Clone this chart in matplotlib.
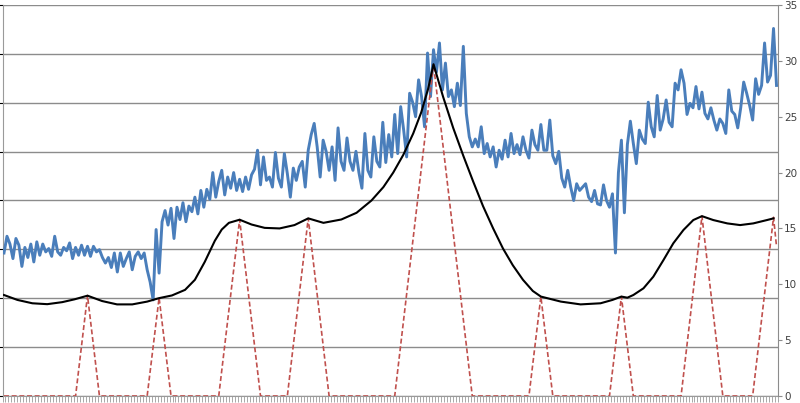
import matplotlib
matplotlib.use("Agg")
import matplotlib.pyplot as plt
import numpy as np

# ---------------- data ----------------
blue = [
    # 0-44
    12.8, 14.3, 13.6, 12.3, 14.1, 13.5, 11.6, 13.3, 12.4, 13.6, 12.0, 13.8, 12.6, 13.6, 12.9,
    13.2, 12.5, 14.3, 12.9, 12.6, 13.3, 13.0, 13.7, 12.3, 13.3, 12.6, 13.5, 12.6, 13.4, 12.5,
    13.4, 12.9, 13.1, 12.4, 11.9, 12.4, 11.5, 12.8, 11.1, 12.8, 11.6, 12.3, 12.9, 11.3, 12.5,
    # 45-88
    12.9, 12.3, 12.8, 11.3, 10.2, 8.6, 14.9, 11.0, 15.6, 16.6, 15.3, 16.8, 14.1, 16.9, 15.8,
    17.3, 15.6, 17.0, 16.5, 17.8, 16.3, 18.4, 16.9, 18.5, 17.6, 20.0, 17.8, 19.2, 20.2, 18.0,
    19.6, 18.6, 20.0, 18.4, 19.4, 18.3, 19.6, 18.5, 19.8, 20.3, 22.0, 18.9, 21.4, 19.3,
    # 89-133
    19.6, 18.7, 21.8, 19.5, 18.7, 21.7, 19.9, 17.8, 20.4, 19.3, 20.5, 21.0, 18.7, 22.0, 23.4,
    24.4, 22.3, 19.6, 22.9, 21.9, 20.2, 22.3, 19.3, 24.0, 21.0, 20.2, 23.1, 21.0, 20.2, 21.9,
    20.0, 18.6, 23.5, 20.2, 19.6, 23.2, 21.0, 20.5, 24.5, 20.9, 23.4, 21.4, 25.2, 21.7, 25.9,
    # 134-175
    23.8, 21.4, 27.1, 26.3, 25.0, 28.3, 26.8, 24.1, 30.7, 26.8, 31.0, 29.0, 31.6, 27.4, 29.8,
    26.8, 27.4, 25.9, 28.0, 26.0, 31.3, 25.3, 23.2, 22.3, 23.0, 22.3, 24.1, 21.7, 22.6, 21.4,
    22.3, 20.5, 22.0, 21.2, 22.9, 21.4, 23.5, 21.7, 22.5, 21.6, 23.2, 22.0,
    # 176-219
    21.3, 23.8, 22.5, 22.0, 24.3, 22.0, 22.0, 24.7, 21.5, 20.8, 21.9, 19.5, 18.7, 20.2, 18.7,
    17.5, 19.0, 18.4, 18.7, 19.0, 17.8, 17.4, 18.4, 17.2, 17.1, 18.9, 17.5, 16.9, 18.1, 12.8,
    20.0, 22.9, 16.4, 22.5, 24.6, 22.6, 20.8, 23.8, 23.0, 22.6, 26.3, 24.1, 23.2, 26.9,
    # 220-259
    23.8, 24.8, 26.5, 24.5, 24.1, 28.0, 27.4, 29.2, 28.0, 25.2, 26.2, 25.8, 27.7, 25.7, 27.2,
    25.3, 24.8, 25.8, 24.7, 23.8, 24.8, 24.4, 23.5, 27.4, 25.5, 25.2, 24.0, 25.8, 28.1, 27.1,
    26.0, 24.7, 28.4, 27.0, 27.8, 31.6, 28.1, 28.7, 32.9, 27.8,
]

red_x = [0, 24, 28, 32, 48, 52, 56, 72, 79, 86, 95, 102, 109, 131, 144, 157,
         176, 180, 184, 203, 207, 211, 227, 234, 241, 251, 258, 259]
red_y = [0, 0, 9.0, 0, 0, 8.8, 0, 0, 15.8, 0, 0, 15.9, 0, 0, 29.7, 0,
         0, 8.9, 0, 0, 8.9, 0, 0, 16.1, 0, 0, 16.0, 13.4]

black_x = [0, 4.5, 9.5, 14.5, 19.5, 23.6, 28, 32.9, 37.9, 43, 48, 52, 56.3, 60.7, 64,
           67.3, 70.7, 73, 75.4, 79, 83, 87.4, 92.4, 97.4, 102, 107.1, 113.1, 118.2,
           123.2, 127.2, 130.5, 133.9, 137.2, 139.9, 142.2, 144, 147.2, 150.6, 154,
           157.3, 160.6, 164, 167.3, 170.6, 174, 177.3, 180, 186.7, 193.3, 200, 204,
           207, 209, 211, 214.4, 217.7, 221.1, 224.4, 227.8, 231.1, 234, 237.8, 242.5,
           246.8, 251.2, 255.8, 258]
black_y = [9.04, 8.6, 8.3, 8.22, 8.4, 8.65, 8.98, 8.5, 8.2, 8.2, 8.45, 8.76, 9.0, 9.5, 10.4,
           12.0, 13.9, 14.9, 15.5, 15.78, 15.35, 15.05, 15.0, 15.3, 15.9, 15.5, 15.8, 16.4,
           17.5, 18.7, 20.0, 21.6, 23.5, 25.4, 27.5, 29.7, 26.8, 24.0, 21.5,
           19.2, 17.0, 15.0, 13.2, 11.7, 10.4, 9.4, 8.9, 8.45, 8.2, 8.3, 8.6,
           8.9, 8.8, 9.04, 9.64, 10.68, 12.17, 13.67, 14.86, 15.75, 16.1, 15.75, 15.45,
           15.3, 15.45, 15.75, 15.9]

right_ticks = [0, 5, 10, 15, 20, 25, 30, 35]
grid_levels = [0, 5, 10, 15, 20, 25, 30, 35, 40]

# ---------------- figure ----------------
W, H = 800, 403
fig = plt.figure(figsize=(W / 100, H / 100), dpi=100)
left_px, right_px, top_px, bottom_px = 2.5, 778, 5, 396
ax = fig.add_axes([left_px / W, (H - bottom_px) / H,
                   (right_px - left_px) / W, (bottom_px - top_px) / H])
n = len(blue)
ax.set_xlim(-0.5, n - 0.5)
ax.set_ylim(0, 40)
ax.set_yticks(grid_levels)
ax.yaxis.grid(True, color="#8c8c8c", linewidth=1.0)
ax.set_axisbelow(True)
ax.tick_params(axis="y", left=False, labelleft=False)
ax.set_xticks(np.arange(-0.5, n, 1))
ax.tick_params(axis="x", length=4, width=0.6, color="#9a9a9a", labelbottom=False,
               direction="out")
for s in ["top", "right"]:
    ax.spines[s].set_visible(False)
ax.spines["left"].set_color("#9a9a9a")
ax.spines["bottom"].set_color("#9a9a9a")

ax2 = ax.twinx()
ax2.set_ylim(0, 35)
ax2.set_yticks(right_ticks)
ax2.tick_params(axis="y", length=3, width=0.8, color="#8c8c8c", labelsize=7.5,
                labelcolor="#404040", pad=1.5)
for s in ["top", "left", "bottom"]:
    ax2.spines[s].set_visible(False)
ax2.spines["right"].set_color("#8c8c8c")

x = np.arange(n)
ax2.plot(x, blue, color="#4a7ebb", linewidth=2.1, solid_joinstyle="round", zorder=3)
ax2.plot(red_x, red_y, color="#c0504d", linewidth=1.2, linestyle=(0, (3, 1.6)), zorder=4)
ax2.plot(black_x, black_y, color="#000000", linewidth=1.5, zorder=5)

fig.savefig("out.png", dpi=100)
